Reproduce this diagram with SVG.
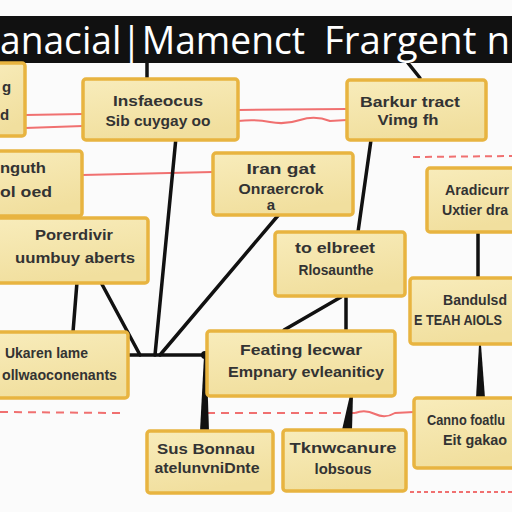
<svg xmlns="http://www.w3.org/2000/svg" width="512" height="512" viewBox="0 0 512 512">
<defs>
<linearGradient id="boxg" x1="0" y1="0" x2="0.3" y2="1">
<stop offset="0" stop-color="#f8ecbb"/>
<stop offset="1" stop-color="#f1df9e"/>
</linearGradient>
<style>
.box{fill:url(#boxg);stroke:#e8b440;stroke-width:3.5;}
.t{font-family:"Liberation Sans",Arial,sans-serif;font-weight:bold;font-size:15px;fill:#333;text-anchor:middle;}
.tl{font-family:"Liberation Sans",Arial,sans-serif;font-weight:bold;font-size:15px;fill:#333;}
.title{font-family:"Open Sans","DejaVu Sans",sans-serif;font-size:38px;fill:#fff;}
.ln{stroke:#111;stroke-width:3.5;fill:none;stroke-linecap:round;}
.wd{fill:#111;}
.red{stroke:#f07070;stroke-width:2;fill:none;}
</style>
</defs>
<rect width="512" height="512" fill="#fbfbfb"/>

<g id="connectors">
<g id="red-lines">
<path class="red" d="M25,115 L83,114"/>
<path class="red" d="M25,128 L83,126"/>
<path class="red" d="M238,110 L347,109"/>
<path class="red" d="M238,121 Q255,119 270,122 T300,120 T330,121 L347,120"/>
<path class="red" d="M82,175 L213,172"/>
<path class="red" stroke-dasharray="7 5" d="M413,157 L512,156"/>
<path class="red" stroke-dasharray="8 6" d="M0,412 L120,413"/>
<path class="red" stroke-dasharray="8 6" d="M207,413 L355,413"/>
<path class="red" d="M355,413 Q365,409 375,414 T395,413 L414,412"/>
<path class="red" stroke-dasharray="4 3" d="M410,492 L512,492"/>
</g>
<line class="ln" stroke-width="2.5" x1="147" y1="62" x2="147" y2="80"/>
<line class="ln" stroke-width="6" x1="408" y1="63" x2="420" y2="78"/>
<line class="ln" x1="177" y1="127" x2="155" y2="355"/>
<line class="ln" stroke-width="4" x1="281" y1="212" x2="160" y2="355"/>
<line class="ln" stroke-width="3" x1="97" y1="275" x2="140" y2="355"/>
<line class="ln" stroke-width="4" x1="128" y1="355" x2="207" y2="355"/>
<circle class="wd" cx="205" cy="355" r="4"/>
<polygon class="wd" points="204,356 206.5,356 209,431 200,431"/>
<line class="ln" x1="77" y1="282" x2="73" y2="332"/>
<line class="ln" x1="371" y1="140" x2="358" y2="232"/>
<line class="ln" x1="341" y1="297" x2="284" y2="330"/>
<line class="ln" stroke-width="3" x1="346" y1="297" x2="346" y2="330"/>
<line class="ln" stroke-width="3" x1="478" y1="233" x2="478" y2="278"/>
<polygon class="wd" points="479,345 481,345 485,398 476,398"/>
<polygon class="wd" points="350,395 353,395 352,430 342,430"/>
</g>

<g id="title">
<rect x="0" y="16" width="512" height="47" fill="#111"/>
<text class="title" x="0" y="54" textLength="305" lengthAdjust="spacingAndGlyphs">anacial|Mamenct</text>
<text class="title" x="324" y="54" textLength="186" lengthAdjust="spacingAndGlyphs">Frargent n</text>
</g>

<g id="node-topleft">
<rect class="box" x="-20" y="63" width="45" height="73" rx="3"/>
<text class="tl" x="2" y="92">g</text>
<text class="tl" x="0" y="120">d</text>
</g>

<g id="node-a">
<rect class="box" x="83" y="79" width="155" height="61" rx="3"/>
<text class="t" x="158" y="106" textLength="90" lengthAdjust="spacingAndGlyphs">Insfaeocus</text>
<text class="t" x="158" y="126" textLength="105" lengthAdjust="spacingAndGlyphs">Sib cuygay oo</text>
</g>

<g id="node-b">
<rect class="box" x="347" y="80" width="139" height="60" rx="3"/>
<text class="t" x="410" y="107" textLength="100" lengthAdjust="spacingAndGlyphs">Barkur tract</text>
<text class="t" x="408" y="125" textLength="61" lengthAdjust="spacingAndGlyphs">Vimg fh</text>
</g>

<g id="node-c">
<rect class="box" x="-10" y="151" width="92" height="65" rx="3"/>
<text class="tl" x="0" y="173" textLength="46" lengthAdjust="spacingAndGlyphs">nguth</text>
<text class="tl" x="0" y="197" textLength="52" lengthAdjust="spacingAndGlyphs">ol oed</text>
</g>

<g id="node-d">
<rect class="box" x="213" y="153" width="140" height="62" rx="3"/>
<text class="t" x="281" y="174" textLength="69" lengthAdjust="spacingAndGlyphs">Iran gat</text>
<text class="t" x="281" y="194" textLength="85" lengthAdjust="spacingAndGlyphs">Onraercrok</text>
<text class="t" x="271" y="210" font-size="10">a</text>
</g>

<g id="node-e">
<rect class="box" x="-5" y="218" width="153" height="65" rx="3"/>
<text class="t" x="74" y="240" textLength="78" lengthAdjust="spacingAndGlyphs">Porerdivir</text>
<text class="t" x="75" y="263" textLength="120" lengthAdjust="spacingAndGlyphs">uumbuy aberts</text>
</g>

<g id="node-f">
<rect class="box" x="427" y="168" width="95" height="64" rx="3"/>
<text class="tl" x="445" y="195" textLength="64" lengthAdjust="spacingAndGlyphs">Aradicurr</text>
<text class="tl" x="442" y="215" textLength="66" lengthAdjust="spacingAndGlyphs">Uxtier dra</text>
</g>

<g id="node-g">
<rect class="box" x="275" y="232" width="130" height="64" rx="3"/>
<text class="t" x="335" y="253" textLength="80" lengthAdjust="spacingAndGlyphs">to elbreet</text>
<text class="t" x="336" y="275" textLength="75" lengthAdjust="spacingAndGlyphs">Rlosaunthe</text>
</g>

<g id="node-h">
<rect class="box" x="410" y="278" width="112" height="66" rx="3"/>
<text class="tl" x="443" y="305" textLength="64" lengthAdjust="spacingAndGlyphs">Bandulsd</text>
<text class="tl" x="414" y="325" font-size="12" textLength="88" lengthAdjust="spacingAndGlyphs">E TEAH AIOLS</text>
</g>

<g id="node-i">
<rect class="box" x="-5" y="332" width="133" height="66" rx="3"/>
<text class="tl" x="5" y="358" textLength="83" lengthAdjust="spacingAndGlyphs">Ukaren lame</text>
<text class="tl" x="2" y="380" textLength="115" lengthAdjust="spacingAndGlyphs">ollwaoconenants</text>
</g>

<g id="node-j">
<rect class="box" x="207" y="331" width="188" height="65" rx="3"/>
<text class="t" x="301" y="355" textLength="122" lengthAdjust="spacingAndGlyphs">Feating lecwar</text>
<text class="t" x="306" y="377" textLength="156" lengthAdjust="spacingAndGlyphs">Empnary evleaniticy</text>
</g>

<g id="node-k">
<rect class="box" x="147" y="431" width="126" height="62" rx="3"/>
<text class="t" x="206" y="454" textLength="98" lengthAdjust="spacingAndGlyphs">Sus Bonnau</text>
<text class="t" x="207" y="473" textLength="105" lengthAdjust="spacingAndGlyphs">atelunvniDnte</text>
</g>

<g id="node-l">
<rect class="box" x="283" y="430" width="123" height="61" rx="3"/>
<text class="t" x="343" y="453" textLength="107" lengthAdjust="spacingAndGlyphs">Tknwcanure</text>
<text class="t" x="343" y="474" textLength="57" lengthAdjust="spacingAndGlyphs">lobsous</text>
</g>

<g id="node-m">
<rect class="box" x="414" y="398" width="108" height="70" rx="3"/>
<text class="tl" x="427" y="425" font-size="12.5" textLength="78" lengthAdjust="spacingAndGlyphs">Canno foatlu</text>
<text class="tl" x="443" y="445" textLength="64" lengthAdjust="spacingAndGlyphs">Eit gakao</text>
</g>
</svg>
